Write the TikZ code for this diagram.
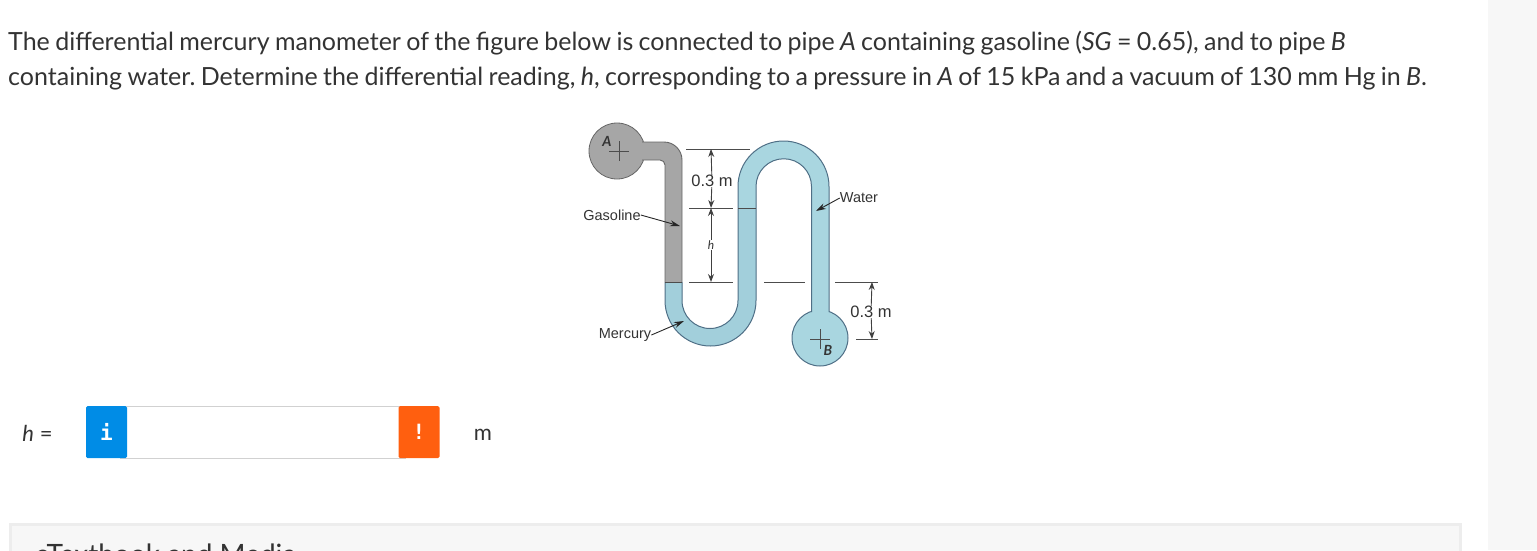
\documentclass[tikz,border=0pt]{standalone}
\usepackage{fontspec}
\usepackage{xcolor}
\setmainfont{Lato}
\newfontfamily\parafont[WordSpace=0.84]{Lato}
\newfontfamily\figfont{Liberation Sans}
\newfontfamily\iconfont{DejaVu Sans Mono}
\usetikzlibrary{shapes,arrows,arrows.meta,positioning,calc}
\definecolor{bodytext}{HTML}{333333}
\definecolor{figtext}{HTML}{333333}
\definecolor{gasgray}{HTML}{A6A6A6}
\definecolor{waterblue}{HTML}{A9D6E0}
\definecolor{mercuryblue}{HTML}{A2CFDB}
\definecolor{wallblue}{HTML}{4F6F86}
\definecolor{panelgray}{HTML}{F7F7F7}
\definecolor{infoblue}{HTML}{008CE6}
\definecolor{warnorange}{HTML}{FF5F0F}

\begin{document}
\begin{tikzpicture}[
    x=1pt, y=-1pt,
    para/.style={anchor=base west, inner sep=0pt, text=bodytext, font=\parafont\frenchspacing\fontsize{25}{28}\selectfont},
    answer/.style={inner sep=0pt, text=bodytext, font=\fontsize{22}{26}\selectfont},
    figlabel/.style={inner sep=0pt, text=figtext, font=\figfont\fontsize{14.5}{17}\selectfont},
    dimlabel/.style={inner sep=0pt, text=figtext, font=\figfont\fontsize{16.5}{19}\selectfont},
    bulbletter/.style={inner sep=0pt, text=black!80, font=\itshape\bfseries\fontsize{14}{16}\selectfont},
    gasbulb/.style={circle, draw=black!60, line width=0.8pt, fill=gasgray, minimum size=56pt, inner sep=0pt},
    waterbulb/.style={circle, draw=wallblue, line width=1pt, fill=waterblue, minimum size=56pt, inner sep=0pt},
    wall/.style={draw=wallblue, line width=1pt},
    level/.style={draw=black!70, line width=0.9pt},
    dim/.style={draw=black!75, line width=0.9pt},
    dimtip/.style={-{Stealth[length=8pt,width=6pt]}},
    leader/.style={-{Stealth[length=10pt,width=6pt]}, draw=black!85, line width=0.9pt},
    btn/.style={rounded corners=1.5pt, minimum width=41pt, minimum height=52pt, inner sep=0pt, text=white, font=\iconfont\bfseries\fontsize{21}{24}\selectfont}
]
    \useasboundingbox (0,0) rectangle (1537,550);

    % page
    \fill[panelgray] (1488,0) rectangle (1537,550);
    \begin{scope}
        \clip (0,0) rectangle (1537,550);
        \draw[draw=black!7, fill=panelgray, line width=3pt] (10,524) rectangle (1460,600);
        \node[anchor=base west, inner sep=0pt, text=bodytext, font=\fontsize{28}{32}\selectfont] (media) at (35,564) {eTextbook and Media};
    \end{scope}

    % question
    \node[para] (line1) at (8,50) {The differential mercury manometer of the figure below is connected to pipe \textit{A} containing gasoline (\textit{SG} = 0.65), and to pipe \textit{B}};
    \node[para] (line2) at (8,85) {containing water. Determine the differential reading, \textit{h}, corresponding to a pressure in \textit{A} of 15 kPa and a vacuum of 130 mm Hg in \textit{B}.};

    % answer row
    \node[answer] (hlabel) at (37.5,433) {\textit{h} =};
    \node[draw=black!18, line width=0.8pt, fill=white, minimum width=285pt, minimum height=52pt, inner sep=0pt] (field) at (263,432) {};
    \node[btn, fill=infoblue] (info) at (106.5,432) {i};
    \node[btn, fill=warnorange] (warn) at (419,432) {!};
    \node[answer] (unit) at (483,435) {m};

    % bulbs
    \node[gasbulb] (bulbA) at (617,151) {};
    \node[waterbulb] (bulbB) at (820,338) {};

    % gasoline leg
    \fill[gasgray] (638,142) -- (664,142) arc[start angle=-90, end angle=0, radius=18] -- (682,282)
        -- (665,282) -- (665,165) arc[start angle=0, end angle=-90, radius=5] -- (638,160) -- cycle;
    \draw[draw=black!60, line width=0.9pt] (642,142) -- (664,142) arc[start angle=-90, end angle=0, radius=18] -- (682,282);
    \draw[draw=black!60, line width=0.9pt] (642,160) -- (660,160) arc[start angle=-90, end angle=0, radius=5] -- (665,282);

    % mercury and water legs
    \fill[mercuryblue] (665,282) -- (665,300.5) arc[start angle=180, end angle=0, radius=45.5]
        -- (756,208) -- (738,208) -- (738,300.5) arc[start angle=0, end angle=180, radius=28] -- (682,282) -- cycle;
    \fill[waterblue] (756,208) -- (756,186.5) arc[start angle=180, end angle=360, radius=27.75] -- (811.5,314) -- (829,314)
        -- (829,186.5) arc[start angle=0, end angle=-180, radius=45.5] -- (738,208) -- cycle;
    \draw[wall] (665,282) -- (665,300.5) arc[start angle=180, end angle=0, radius=45.5]
        -- (756,186.5) arc[start angle=180, end angle=360, radius=27.75] -- (811.5,312);
    \draw[wall] (829,312) -- (829,186.5) arc[start angle=0, end angle=-180, radius=45.5]
        -- (738,300.5) arc[start angle=0, end angle=180, radius=28] -- (682,282);

    % crosses
    \draw[draw=black!70, line width=0.9pt] (609,151) -- (629,151) (619,141) -- (619,161);
    \draw[draw=black!70, line width=0.9pt] (810,339) -- (830,339) (820,329) -- (820,349);
    \node[bulbletter] (letterA) at (607,141) {A};
    \node[bulbletter] (letterB) at (828,350) {B};

    % levels
    \coordinate (t1) at (686,149);
    \coordinate (t2) at (750,149);
    \coordinate (m1) at (689,208);
    \coordinate (m2) at (733,208);
    \coordinate (m3) at (738,208);
    \coordinate (m4) at (756,208);
    \coordinate (l1) at (665,282);
    \coordinate (l2) at (682,282);
    \coordinate (l3) at (689,282);
    \coordinate (l4) at (733,282);
    \coordinate (l5) at (764,282);
    \coordinate (l6) at (805,282);
    \coordinate (l7) at (835,282);
    \coordinate (l8) at (878,282);
    \coordinate (b1) at (856,339);
    \coordinate (b2) at (878,339);
    \draw[level] (t1) -- (t2);
    \draw[level] (m1) -- (m2);
    \draw[level] (m3) -- (m4);
    \draw[level] (l1) -- (l2);
    \draw[level] (l3) -- (l4);
    \draw[level] (l5) -- (l6);
    \draw[level] (l7) -- (l8);
    \draw[level] (b1) -- (b2);

    % dimensions
    \node[dimlabel] (upper) at (712,181) {0.3 m};
    \node[figlabel, font=\itshape\fontsize{12}{14}\selectfont] (hdim) at (711,245) {h};
    \node[dimlabel] (lower) at (871,312) {0.3 m};
    \coordinate (a1) at (711,149);
    \coordinate (a2) at (711,208);
    \coordinate (a3) at (711,282);
    \coordinate (a4) at (872,282);
    \coordinate (a5) at (872,339);
    \coordinate (a7) at (711,220);
    \draw[dim, dimtip] (upper) -- (a1);
    \draw[dim, dimtip] (upper) -- (a2);
    \draw[dim, dimtip] (a7) -- (a2);
    \draw[dim] (a7) -- (hdim);
    \draw[dim, dimtip] (hdim) -- (a3);
    \draw[dim, dimtip] (lower) -- (a4);
    \draw[dim, dimtip] (lower) -- (a5);

    % leaders
    \node[figlabel] (gasoline) at (612,215) {Gasoline};
    \node[figlabel] (water) at (859,198) {Water};
    \node[figlabel] (mercury) at (625,335) {Mercury};
    \coordinate (gastip) at (680,226);
    \coordinate (watertip) at (816,211);
    \coordinate (mercurytip) at (684,321);
    \draw[leader] (gasoline.east) -- (gastip);
    \draw[leader] (water.west) -- (watertip);
    \draw[leader] (mercury.east) -- (mercurytip);
\end{tikzpicture}
\end{document}
